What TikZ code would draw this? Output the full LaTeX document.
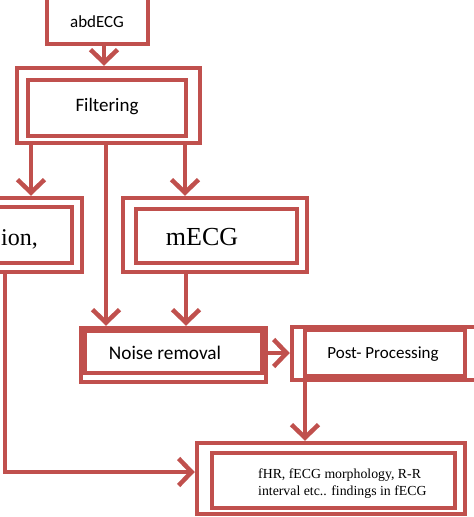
\documentclass[tikz,border=0pt]{standalone}
\usepackage{fontspec}
\setmainfont{Liberation Serif}
\newfontfamily\calib{Carlito}
\usetikzlibrary{arrows.meta}
\definecolor{rd}{HTML}{C0504D}
\begin{document}
\begin{tikzpicture}[x=1pt,y=-1pt,
  frameo/.style={draw=rd,line width=4.5pt,inner sep=0pt},
  framei/.style={draw=rd,line width=4pt,inner sep=0pt},
  arr/.style={draw=rd,line width=4.5pt,-{Straight Barb[length=13pt,width=27pt]}},
  lbl/.style={inner sep=0pt,text=black}]
\useasboundingbox (0,0) rectangle (474,517);
\clip (0,0) rectangle (474,517);
% boxes
\node[frameo,minimum width=101pt,minimum height=64pt] (abd) at (97.5,12) {};
\node[frameo,minimum width=183pt,minimum height=75pt] (filtO) at (108.5,105.5) {};
\node[framei,minimum width=158pt,minimum height=56pt] (filtI) at (107,108) {};
\node[frameo,minimum width=102pt,minimum height=74pt] (leftO) at (31,235) {};
\node[framei,minimum width=92pt,minimum height=56pt] (leftI) at (26,235) {};
\node[frameo,minimum width=184pt,minimum height=74pt] (mO) at (215,235) {};
\node[framei,minimum width=161pt,minimum height=54pt] (mI) at (216.5,236) {};
\node[frameo,minimum width=185pt,minimum height=54pt] (noiseO) at (173.5,355) {};
\node[framei,minimum width=177pt,minimum height=42pt] (noiseI) at (173.5,352) {};
\node[frameo,minimum width=184pt,minimum height=53pt] (postO) at (384,353.5) {};
\node[frameo,minimum width=160pt,minimum height=46pt] (postI) at (385,353) {};
\node[frameo,minimum width=268pt,minimum height=71pt] (fhrO) at (331,478.5) {};
\node[framei,minimum width=243pt,minimum height=55pt] (fhrI) at (333.5,480.5) {};
% texts
\node[lbl,anchor=base,font=\calib\fontsize{17}{20}\selectfont] (abdt) at (97,27) {abdECG};
\node[lbl,anchor=base,font=\calib\fontsize{19}{22}\selectfont] (filtt) at (107,111) {Filtering};
\node[lbl,anchor=base east,font=\fontsize{24}{28}\selectfont] (leftt) at (38,245) {ion,};
\node[lbl,anchor=base,font=\fontsize{26}{30}\selectfont] (mt) at (202,245) {mECG};
\node[lbl,anchor=base,font=\calib\fontsize{19.3}{22}\selectfont] (noiset) at (165,359) {Noise removal};
\node[lbl,anchor=base,font=\calib\fontsize{17}{20}\selectfont] (postt) at (383,358) {Post- Processing};
\node[lbl,anchor=west,align=left,font=\fontsize{13.8}{17}\selectfont] (fhrt) at (258,484) {fHR, fECG morphology, R-R\\interval etc.. findings in fECG};
% connectors
\draw[arr] ([xshift=6.5pt]abd.south) -- ([xshift=6.5pt]abd.south |- filtO.north);
\draw[arr] (leftO.north |- filtO.south) -- (leftO.north);
\draw[arr] ([xshift=-2.5pt]filtO.south) -- ([xshift=-2.5pt]filtO.south |- noiseO.north);
\draw[arr] ([xshift=-30pt]mO.north |- filtO.south) -- ([xshift=-30pt]mO.north);
\draw[arr] ([xshift=-29pt]mO.south) -- ([xshift=-29pt]mO.south |- noiseO.north);
\draw[arr] ([xshift=-26pt]leftO.south) |- ([yshift=6.5pt]fhrO.west);
\draw[arr] (noiseO.east |- postI.center) -- (postO.west |- postI.center);
\draw[arr] ([xshift=-79pt]postO.south) -- ([xshift=-79pt]postO.south |- fhrO.north);
\end{tikzpicture}
\end{document}
